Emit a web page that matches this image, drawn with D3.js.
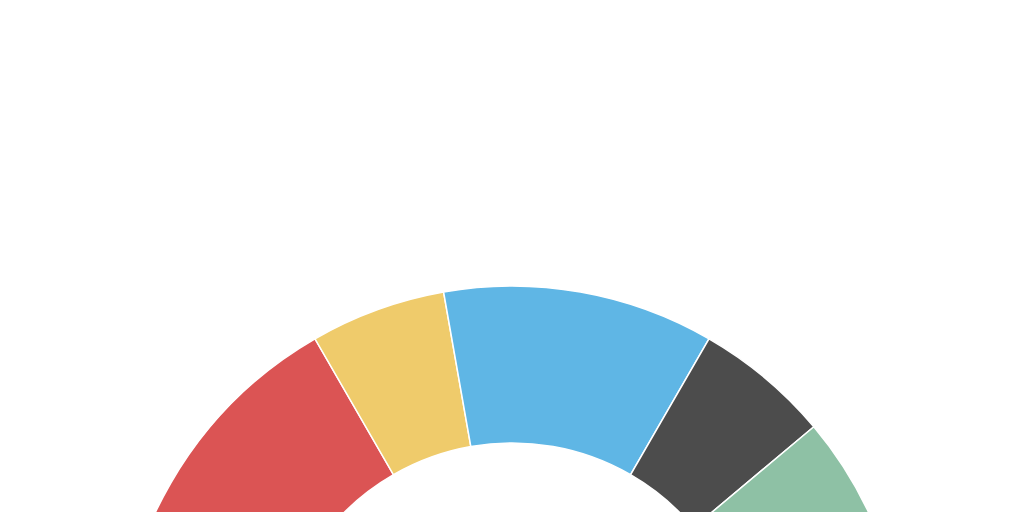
<!DOCTYPE html>
<html>
<head>
<meta charset="utf-8">
<script src="https://cdn.jsdelivr.net/npm/d3@7"></script>
<style>
  html, body { margin: 0; padding: 0; background: #fff; }
  svg { display: block; }
</style>
</head>
<body>
<svg id="chart"></svg>
<script>
// data
const categories = ['A', 'B', 'C', 'D', 'E'];
const values = [30, 10, 20, 10, 20];
const colors = ['#db5454', '#efcb6b', '#5fb6e5', '#4c4c4c', '#8ec1a5'];

const width = 1024;
const height = 512;

const svg = d3.select('#chart')
  .attr('width', width)
  .attr('height', height);

// semi donut, centre sits below the visible area
const cx = 512, cy = 680;
const outerR = 394, innerR = 237;

const pie = d3.pie()
  .sort(null)
  .value(d => d.value)
  .startAngle(-Math.PI / 2)
  .endAngle(Math.PI / 2);

const arc = d3.arc()
  .innerRadius(innerR)
  .outerRadius(outerR);

const data = categories.map((c, i) => ({ name: c, value: values[i] }));

svg.append('g')
  .attr('transform', `translate(${cx},${cy})`)
  .selectAll('path')
  .data(pie(data))
  .enter()
  .append('path')
  .attr('d', arc)
  .attr('fill', (d, i) => colors[i])
  .attr('stroke', '#fff')
  .attr('stroke-width', 1.5);
</script>
</body>
</html>
